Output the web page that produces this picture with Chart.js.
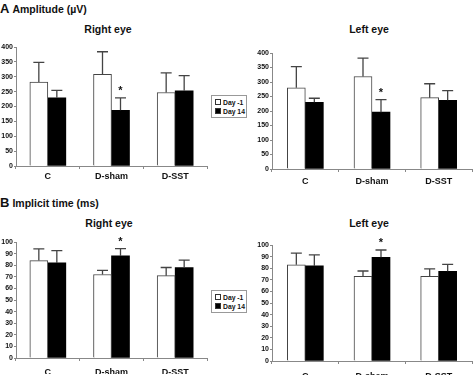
<!DOCTYPE html>
<html>
<head>
<meta charset="utf-8">
<script src="https://cdn.jsdelivr.net/npm/chart.js@4/dist/chart.umd.min.js"></script>
<style>
  html, body { margin: 0; padding: 0; background: #fff; overflow: hidden; }
  body { width: 474px; height: 375px; position: relative; font-family: "Liberation Sans", Arial, sans-serif; color: #111; }
  canvas { position: absolute; }
  .head { position: absolute; left: 0; font-weight: bold; font-size: 10.5px; white-space: nowrap; }
  .head b { font-size: 13px; margin-right: 3px; }
  .sub { position: absolute; font-weight: bold; font-size: 10.5px; transform: translate(-50%, -50%); white-space: nowrap; }
  .legend { position: absolute; left: 211px; width: 34px; height: 21px; border: 1px solid #999; font-size: 6.8px; font-weight: bold; }
  .legend div { height: 9px; line-height: 9px; margin-left: 3px; white-space: nowrap; }
  .legend div:first-child { margin-top: 2px; }
  .legend span { display: inline-block; width: 4px; height: 4px; border: 0.8px solid #333; margin-right: 2px; vertical-align: 0px; }
</style>
</head>
<body>
<div class="head" style="top:1px"><b>A</b>Amplitude (µV)</div>
<div class="sub" style="left:108px; top:29px">Right eye</div>
<div class="sub" style="left:369px; top:29px">Left eye</div>
<div class="head" style="top:195px"><b>B</b>Implicit time (ms)</div>
<div class="sub" style="left:109px; top:223px">Right eye</div>
<div class="sub" style="left:369px; top:223px">Left eye</div>
<div class="legend" id="legendA" style="top:95px"></div>
<div class="legend" id="legendB" style="top:290px"></div>

<canvas id="ampRight" width="217" height="145" style="left:0; top:37px"></canvas>
<canvas id="ampLeft" width="222" height="142" style="left:252px; top:43px"></canvas>
<canvas id="timeRight" width="217" height="142" style="left:0; top:232px"></canvas>
<canvas id="timeLeft" width="222" height="142" style="left:252px; top:235px"></canvas>

<script>
// Groups and series
const groups = ['C', 'D-sham', 'D-SST'];
const seriesNames = ['Day -1', 'Day 14'];
const seriesColors = ['#ffffff', '#000000'];

// A: amplitude (µV), mean and upper error
const ampRightDay1 = [282, 308, 247];
const ampRightDay1Err = [66, 76, 66];
const ampRightDay14 = [229, 187, 253];
const ampRightDay14Err = [25, 42, 51];
const ampLeftDay1 = [280, 319, 246];
const ampLeftDay1Err = [73, 63, 48];
const ampLeftDay14 = [230, 196, 237];
const ampLeftDay14Err = [14, 43, 33];

// B: implicit time (ms)
const timeRightDay1 = [84, 72, 71];
const timeRightDay1Err = [10, 3.5, 7];
const timeRightDay14 = [82, 88, 78];
const timeRightDay14Err = [10.5, 6.3, 6.4];
const timeLeftDay1 = [83, 73, 73];
const timeLeftDay1Err = [10, 4.6, 6.4];
const timeLeftDay14 = [82, 89.4, 77.3];
const timeLeftDay14Err = [9.5, 6.3, 6];

// Day 14 significantly different from Day -1
const starredDay14 = [false, true, false];

const FONT = '"Liberation Sans", Arial, sans-serif';
const AXIS_COLOR = '#888';

// Draw upper error bars and asterisks on top of the bars
const errorBarPlugin = {
    id: 'errorBars',
    afterDatasetsDraw(chart) {
        const ctx = chart.ctx;
        const yScale = chart.scales.y;
        ctx.save();
        chart.data.datasets.forEach((ds, i) => {
            const meta = chart.getDatasetMeta(i);
            meta.data.forEach((bar, j) => {
                const yTop = yScale.getPixelForValue(ds.data[j] + ds.errors[j]);
                ctx.strokeStyle = '#444';
                ctx.lineWidth = 1.3;
                ctx.beginPath();
                ctx.moveTo(bar.x, bar.y);
                ctx.lineTo(bar.x, yTop);
                ctx.moveTo(bar.x - 5.5, yTop);
                ctx.lineTo(bar.x + 5.5, yTop);
                ctx.stroke();
                if (ds.stars && ds.stars[j]) {
                    ctx.fillStyle = '#111';
                    ctx.font = 'bold 11px ' + FONT;
                    ctx.textAlign = 'center';
                    ctx.textBaseline = 'middle';
                    ctx.fillText('*', bar.x, yTop - 7);
                }
            });
        });
        ctx.restore();
    }
};

function makeChart(id, day1, err1, day14, err14, yMax, yStep, layout) {
    const ctx = document.getElementById(id).getContext('2d');
    return new Chart(ctx, {
        type: 'bar',
        data: {
            labels: groups,
            datasets: [{
                label: seriesNames[0],
                data: day1,
                errors: err1,
                backgroundColor: seriesColors[0],
                borderColor: '#444',
                borderWidth: 1
            }, {
                label: seriesNames[1],
                data: day14,
                errors: err14,
                stars: starredDay14,
                backgroundColor: seriesColors[1],
                borderColor: '#000',
                borderWidth: 0
            }]
        },
        options: {
            responsive: false,
            animation: false,
            devicePixelRatio: 1,
            barThickness: 18,
            layout: { padding: { left: 0, top: 10, right: layout.right, bottom: 0 } },
            plugins: { legend: { display: false }, tooltip: { enabled: false } },
            scales: {
                x: {
                    grid: { display: true, drawOnChartArea: false, offset: true, tickLength: 3, color: AXIS_COLOR },
                    border: { color: AXIS_COLOR },
                    ticks: { color: '#111', padding: layout.xPad, font: { family: FONT, size: 9, weight: 'bold' } },
                    afterFit: s => { s.height = 16; }
                },
                y: {
                    min: 0,
                    max: yMax,
                    grid: { display: true, drawOnChartArea: false, tickLength: 2, color: AXIS_COLOR },
                    border: { color: AXIS_COLOR },
                    ticks: { stepSize: yStep, color: '#111', padding: 1, font: { family: FONT, size: 7, weight: 'bold' } },
                    afterFit: s => { s.width = layout.yw; }
                }
            }
        },
        plugins: [errorBarPlugin]
    });
}

// HTML legends, one per row of panels
function buildLegend(id) {
    const box = document.getElementById(id);
    seriesNames.forEach((name, i) => {
        const row = document.createElement('div');
        row.innerHTML = `<span style="background:${seriesColors[i]}"></span>${name}`;
        box.appendChild(row);
    });
}

buildLegend('legendA');
buildLegend('legendB');

makeChart('ampRight', ampRightDay1, ampRightDay1Err, ampRightDay14, ampRightDay14Err, 400, 50, { yw: 16, right: 10, xPad: 2 });
makeChart('ampLeft', ampLeftDay1, ampLeftDay1Err, ampLeftDay14, ampLeftDay14Err, 400, 50, { yw: 20, right: 2, xPad: 4 });
makeChart('timeRight', timeRightDay1, timeRightDay1Err, timeRightDay14, timeRightDay14Err, 100, 10, { yw: 16, right: 10, xPad: 6 });
makeChart('timeLeft', timeLeftDay1, timeLeftDay1Err, timeLeftDay14, timeLeftDay14Err, 100, 10, { yw: 20, right: 2, xPad: 7 });
</script>
</body>
</html>
